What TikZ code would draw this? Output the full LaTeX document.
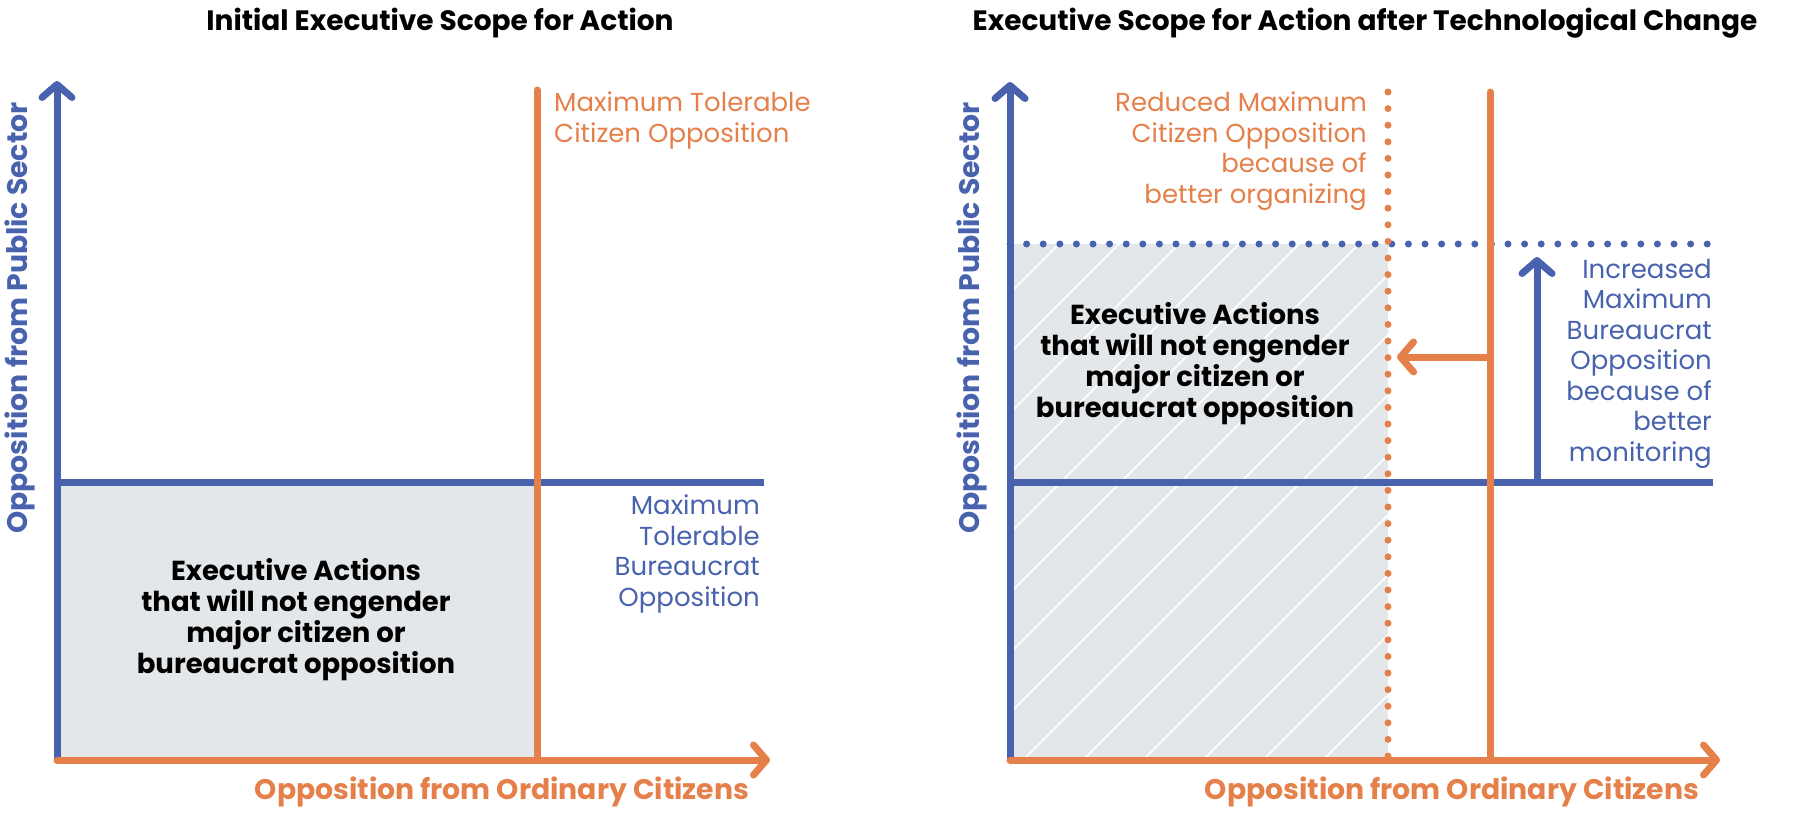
\documentclass[tikz,border=0pt]{standalone}
\usepackage{fontspec}
\setmainfont{Poppins}
\usetikzlibrary{arrows.meta}
\definecolor{axisblue}{HTML}{4862AE}
\definecolor{axisorange}{HTML}{E5804A}
\definecolor{areagray}{HTML}{E4E7EA}

\begin{document}
\begin{tikzpicture}[x=1pt, y=-1pt,
  tip/.style={-{Straight Barb[length=13pt, width=30pt, round]}},
  blueline/.style={draw=axisblue, line width=7pt},
  orangeline/.style={draw=axisorange, line width=7pt},
  dotted line/.style={line cap=round, dash pattern=on 0pt off 16.6pt},
  lbl/.style={inner sep=0pt, font=\fontsize{26}{30.5}\selectfont},
  inside/.style={inner sep=0pt, align=center, font=\bfseries\fontsize{27.5}{31}\selectfont},
  heading/.style={inner sep=0pt, font=\bfseries\fontsize{28}{30}\selectfont},
  axislabel/.style={inner sep=0pt, font=\bfseries\fontsize{28.3}{30}\selectfont}]
\useasboundingbox (0,0) rectangle (1801,836);
% initial scope
\begin{scope}
\node[heading] (title1) at (440,23) {Initial Executive Scope for Action};
\coordinate (o1) at (57,760);
\coordinate (y1) at (57,81);
\coordinate (x1) at (770,760);
\coordinate (bl1) at (57,482);
\coordinate (br1) at (764,482);
\coordinate (ct1) at (537,90);
\coordinate (cb1) at (537,760);
\fill[areagray] (o1) rectangle (ct1 |- bl1);
\draw[blueline] (bl1) -- (br1);
\draw[orangeline, line cap=round] (ct1) -- (cb1);
\draw[blueline, tip] (o1) -- (y1);
\draw[orangeline, line cap=round, tip] (o1) -- (x1);
\node[lbl, text=axisorange, anchor=north west, align=left] (citmax) at (554,92) {Maximum Tolerable\\Citizen Opposition};
\node[lbl, text=axisblue, anchor=north east, align=right] (burmax) at (760,495) {Maximum\\Tolerable\\Bureaucrat\\Opposition};
\node[inside] (act1) at (296,620) {Executive Actions\\that will not engender\\major citizen or\\bureaucrat opposition};
\node[axislabel, text=axisblue, rotate=90] (ylab1) at (20,318) {Opposition from Public Sector};
\node[axislabel, text=axisorange] (xlab1) at (502,792) {Opposition from Ordinary Citizens};
\end{scope}
% after technological change
\begin{scope}
\node[heading] (title2) at (1365,23) {Executive Scope for Action after Technological Change};
\coordinate (o2) at (1010,760);
\coordinate (y2) at (1010,82);
\coordinate (x2) at (1720,760);
\coordinate (bl2) at (1010,482);
\coordinate (br2) at (1713,482);
\coordinate (dl2) at (1010,244);
\coordinate (dr2) at (1713,244);
\coordinate (ct2) at (1490,92);
\coordinate (cb2) at (1490,760);
\coordinate (dt2) at (1388,92);
\coordinate (db2) at (1388,760);
\coordinate (hs2) at (1490,357);
\coordinate (he2) at (1397,357);
\coordinate (vs2) at (1537,482);
\coordinate (ve2) at (1537,257);
\fill[areagray] (o2) rectangle (db2 |- dl2);
\begin{scope}
\clip (o2) rectangle (db2 |- dl2);
\foreach \k in {-9,...,6}
  \draw[white, line width=1.5pt] (1023+60*\k,760) -- ++(560,-560);
\end{scope}
\draw[blueline] (bl2) -- (br2);
\draw[blueline, dotted line] (dl2) -- (dr2);
\draw[orangeline, line cap=round] (ct2) -- (cb2);
\draw[orangeline, dotted line] (dt2) -- (db2);
\draw[orangeline, tip] (hs2) -- (he2);
\draw[blueline, tip] (vs2) -- (ve2);
\draw[blueline, tip] (o2) -- (y2);
\draw[orangeline, line cap=round, tip] (o2) -- (x2);
\node[lbl, text=axisorange, anchor=north east, align=right] (citred) at (1367,92) {Reduced Maximum\\Citizen Opposition\\because of\\better organizing};
\node[lbl, text=axisblue, anchor=north east, align=right] (burinc) at (1712,259) {Increased\\Maximum\\Bureaucrat\\Opposition\\because of\\better\\monitoring};
\node[inside] (act2) at (1195,364) {Executive Actions\\that will not engender\\major citizen or\\bureaucrat opposition};
\node[axislabel, text=axisblue, rotate=90] (ylab2) at (972,318) {Opposition from Public Sector};
\node[axislabel, text=axisorange] (xlab2) at (1452,792) {Opposition from Ordinary Citizens};
\end{scope}
\end{tikzpicture}
\end{document}
